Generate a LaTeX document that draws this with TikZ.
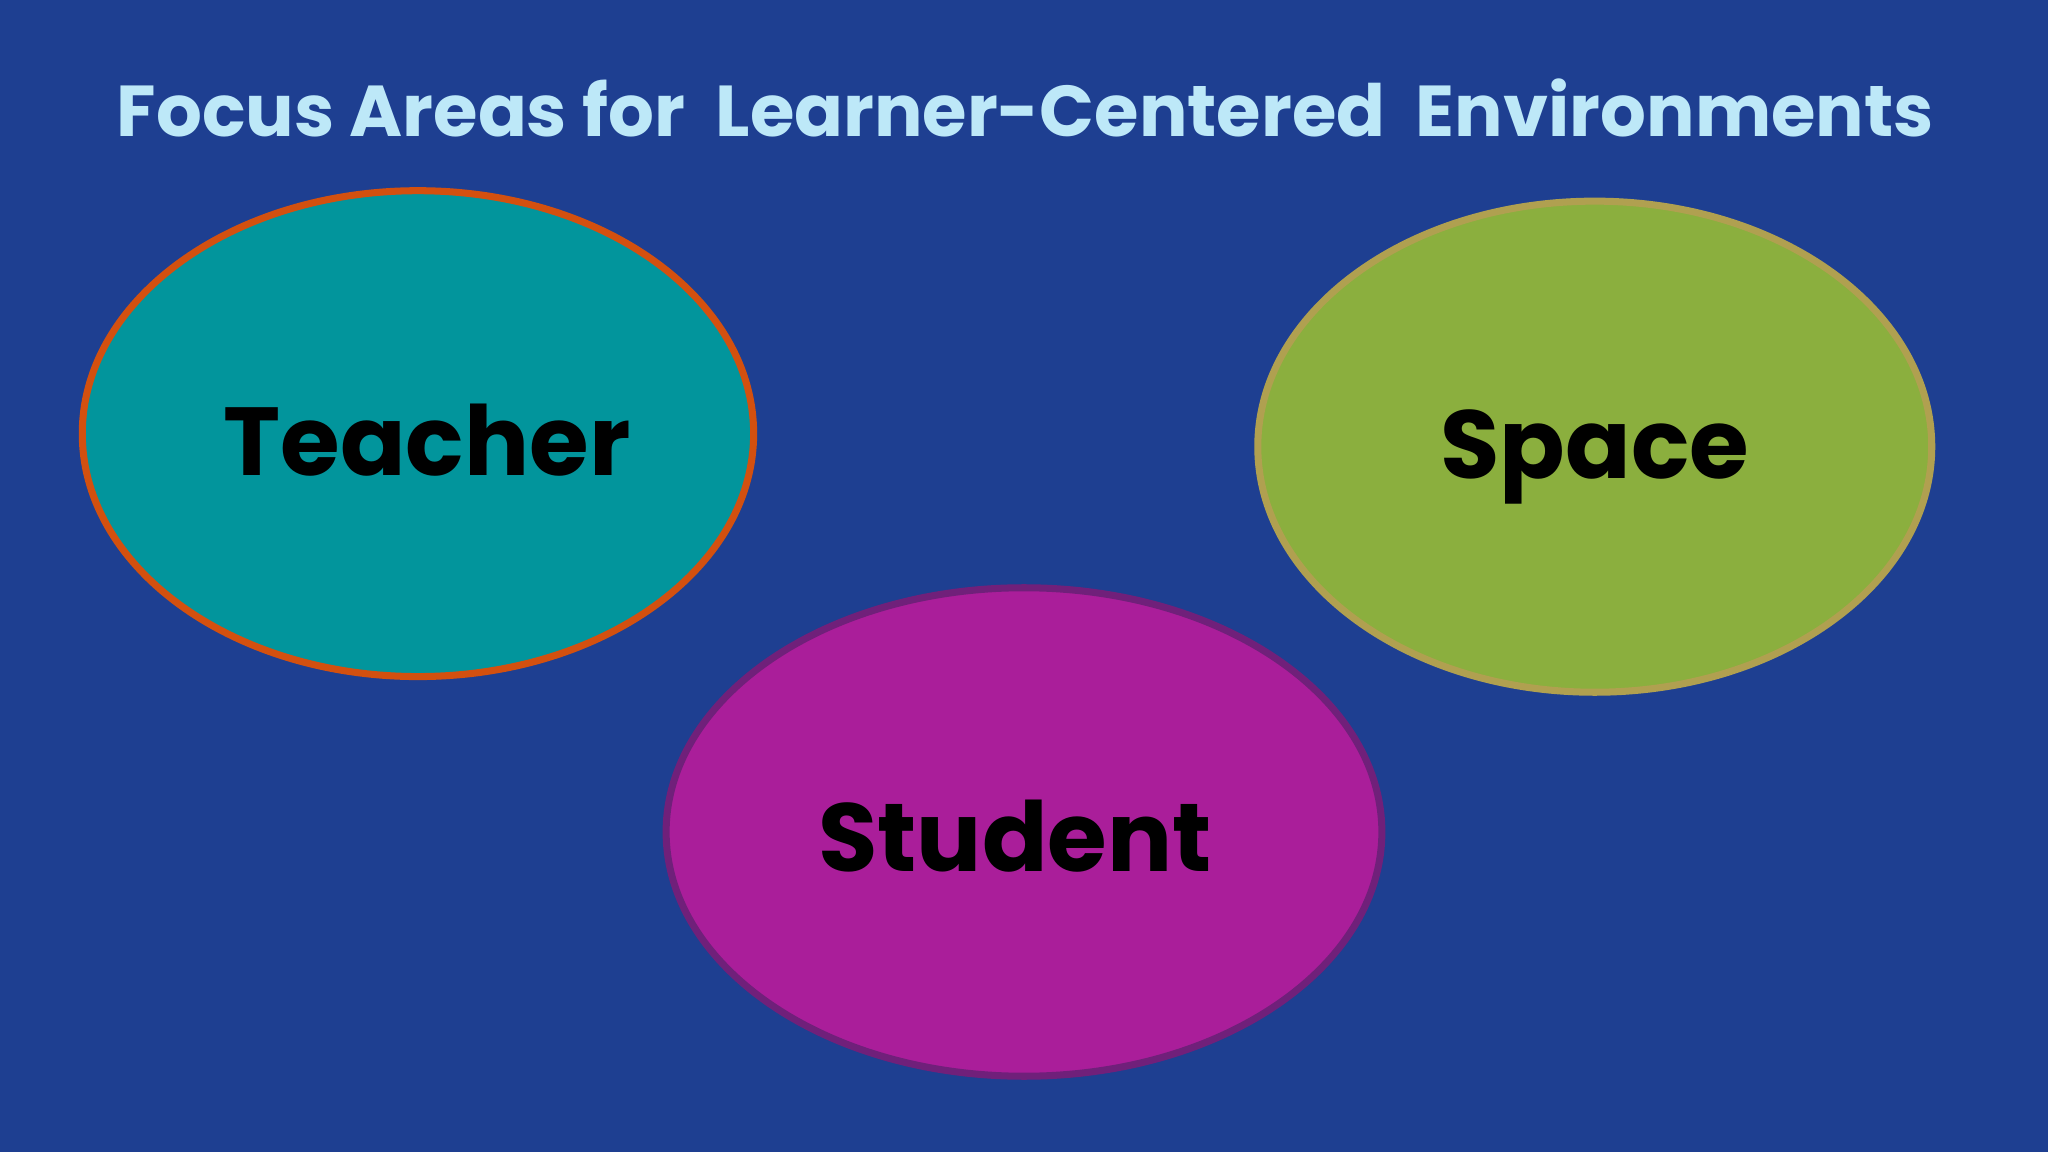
\documentclass[tikz,border=0pt]{standalone}
\usepackage{fontspec}
\setmainfont{Poppins}
\definecolor{bg}{HTML}{1E3F91}
\definecolor{ttl}{HTML}{BDE8F8}
\definecolor{tfill}{HTML}{02959C}
\definecolor{tline}{HTML}{D3500F}
\definecolor{sfill}{HTML}{8BAF3E}
\definecolor{sline}{HTML}{B0A050}
\definecolor{ufill}{HTML}{AA1E9A}
\definecolor{uline}{HTML}{70207A}
\begin{document}
\begin{tikzpicture}[x=0.013061cm,y=-0.013061cm,
  lab/.style={font=\fontsize{27.5}{32}\selectfont\bfseries,text=black}]
\fill[bg] (0,0) rectangle (1568,882);
\useasboundingbox (0,0) rectangle (1568,882);
\node[font=\fontsize{20.5}{24}\selectfont\bfseries,text=ttl] (title) at (785,83) {Focus Areas for\ \ Learner-Centered\ \ Environments};
\draw[tline,fill=tfill,line width=2pt] (320,332) ellipse [x radius=257,y radius=186];
\draw[sline,fill=sfill,line width=2pt] (1221,342) ellipse [x radius=258,y radius=188];
\draw[uline,fill=ufill,line width=2pt] (784,637) ellipse [x radius=274,y radius=187];
\node[lab] (teacher) at (327,337) {Teacher};
\node[lab] (space) at (1221,350) {Space};
\node[lab] (student) at (777,640) {Student};
\end{tikzpicture}
\end{document}
